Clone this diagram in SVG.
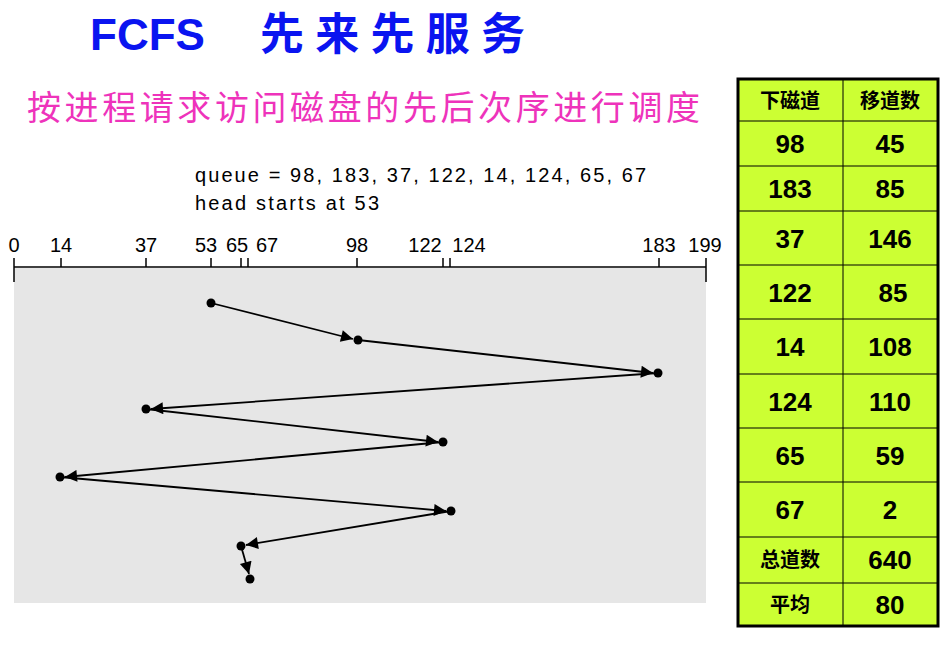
<svg xmlns="http://www.w3.org/2000/svg" width="944" height="648" viewBox="0 0 944 648">
<style>
.ax{font-family:"Liberation Sans",Arial,sans-serif;font-size:20px;fill:#000}
.tk{stroke:#000;stroke-width:1.5}
.ln{stroke:#000;stroke-width:1.8;fill:none}
.td{font-family:"Liberation Sans","Noto Sans CJK SC",sans-serif;font-weight:bold;font-size:26px;text-anchor:middle;fill:#000}
.th{font-family:"Liberation Sans","Noto Sans CJK SC",sans-serif;font-weight:bold;font-size:20px;text-anchor:middle;fill:#000}
.g{stroke:#000;stroke-width:1}
.tt{font-family:"Liberation Sans","Noto Sans CJK SC",sans-serif;font-weight:bold;font-size:44px;fill:#0a14f0}
</style>
<defs>
<marker id="ah" viewBox="0 0 10 10" refX="10" refY="5" markerWidth="18" markerHeight="12" markerUnits="userSpaceOnUse" orient="auto"><path d="M0,0L10,5L0,10z" fill="#000"/></marker>
</defs>
<rect width="944" height="648" fill="#fff"/>
<g id="title"><text class="tt" x="90" y="50">FCFS</text><text class="tt" x="260" y="50" textLength="265">先来先服务</text></g>
<g id="subtitle"><text x="27" y="120" font-family="Noto Sans CJK SC,sans-serif" font-size="34" fill="#ee33bb" textLength="673">按进程请求访问磁盘的先后次序进行调度</text></g>
<g id="queue"><text class="ax" x="195" y="182" textLength="451">queue = 98, 183, 37, 122, 14, 124, 65, 67</text><text class="ax" x="195" y="210" textLength="184">head starts at 53</text></g>
<g id="chart">
<rect x="14" y="268" width="692" height="335" fill="#e6e6e6"/>
<line class="tk" x1="14" y1="267" x2="706" y2="267"/>
<line class="tk" x1="14" y1="258" x2="14" y2="282"/>
<line class="tk" x1="706" y1="258" x2="706" y2="282"/>
<g class="tk">
<line x1="61" y1="258" x2="61" y2="267"/><line x1="146" y1="258" x2="146" y2="267"/><line x1="211" y1="258" x2="211" y2="267"/><line x1="241" y1="258" x2="241" y2="267"/><line x1="248" y1="258" x2="248" y2="267"/><line x1="357" y1="258" x2="357" y2="267"/><line x1="443" y1="258" x2="443" y2="267"/><line x1="450" y1="258" x2="450" y2="267"/><line x1="659" y1="258" x2="659" y2="267"/>
</g>
<g class="ax" text-anchor="middle">
<text x="14" y="252">0</text><text x="61" y="252">14</text><text x="146" y="252">37</text><text x="206" y="252">53</text><text x="237" y="252">65</text><text x="267" y="252">67</text><text x="357" y="252">98</text><text x="425" y="252">122</text><text x="469" y="252">124</text><text x="659" y="252">183</text><text x="705" y="252">199</text>
</g>
</g>
<g id="connectors" class="ln">
<line x1="211" y1="303" x2="353" y2="339" marker-end="url(#ah)"/>
<line x1="358" y1="340" x2="653" y2="373" marker-end="url(#ah)"/>
<line x1="658" y1="373" x2="151" y2="409" marker-end="url(#ah)"/>
<line x1="146" y1="409" x2="438" y2="442" marker-end="url(#ah)"/>
<line x1="443" y1="442" x2="65" y2="477" marker-end="url(#ah)"/>
<line x1="60" y1="477" x2="446" y2="511" marker-end="url(#ah)"/>
<line x1="451" y1="511" x2="246" y2="545" marker-end="url(#ah)"/>
<line x1="241" y1="546" x2="249" y2="574" marker-end="url(#ah)"/>
</g>
<g id="dots" fill="#000">
<circle cx="211" cy="303" r="4.5"/><circle cx="358" cy="340" r="4.5"/><circle cx="658" cy="373" r="4.5"/><circle cx="146" cy="409" r="4.5"/><circle cx="443" cy="442" r="4.5"/><circle cx="60" cy="477" r="4.5"/><circle cx="451" cy="511" r="4.5"/><circle cx="241" cy="546" r="4.5"/><circle cx="250" cy="579" r="4.5"/>
</g>
<g id="table">
<rect x="738" y="79" width="200" height="547" fill="#ccff33" stroke="#000" stroke-width="3"/>
<g class="g">
<line x1="843" y1="79" x2="843" y2="626"/>
<line x1="738" y1="121" x2="938" y2="121"/><line x1="738" y1="166" x2="938" y2="166"/><line x1="738" y1="211" x2="938" y2="211"/><line x1="738" y1="265" x2="938" y2="265"/><line x1="738" y1="319" x2="938" y2="319"/><line x1="738" y1="374" x2="938" y2="374"/><line x1="738" y1="428" x2="938" y2="428"/><line x1="738" y1="482" x2="938" y2="482"/><line x1="738" y1="537" x2="938" y2="537"/><line x1="738" y1="583" x2="938" y2="583"/>
</g>
<text class="th" x="790" y="108">下磁道</text><text class="th" x="890" y="108">移道数</text>
<text class="td" x="790" y="153">98</text><text class="td" x="890" y="153">45</text>
<text class="td" x="790" y="198">183</text><text class="td" x="890" y="198">85</text>
<text class="td" x="790" y="248">37</text><text class="td" x="890" y="248">146</text>
<text class="td" x="790" y="302">122</text><text class="td" x="893" y="302">85</text>
<text class="td" x="790" y="356">14</text><text class="td" x="890" y="356">108</text>
<text class="td" x="790" y="411">124</text><text class="td" x="890" y="411">110</text>
<text class="td" x="790" y="465">65</text><text class="td" x="890" y="465">59</text>
<text class="td" x="790" y="519">67</text><text class="td" x="890" y="519">2</text>
<text class="th" x="790" y="567">总道数</text><text class="td" x="890" y="569">640</text>
<text class="th" x="790" y="612">平均</text><text class="td" x="890" y="614">80</text>
</g>
</svg>
